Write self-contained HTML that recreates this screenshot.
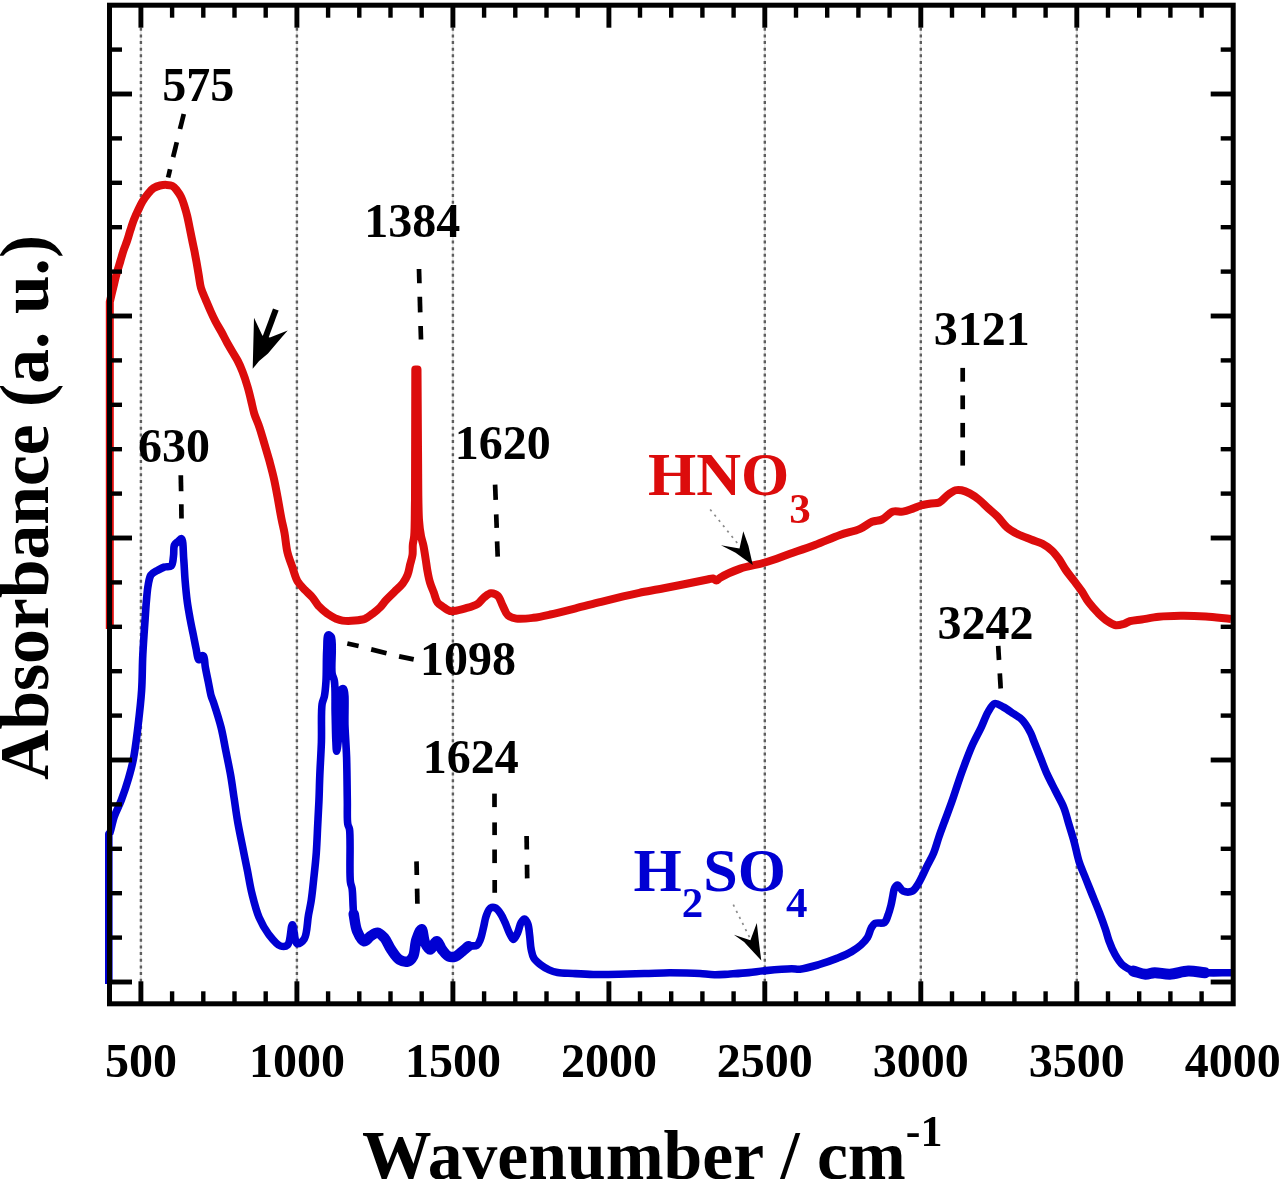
<!DOCTYPE html><html><head><meta charset="utf-8"><style>html,body{margin:0;padding:0;background:#fff;width:1280px;height:1179px;overflow:hidden}svg{display:block}text{font-family:"Liberation Serif","Times New Roman",serif;font-weight:bold}</style></head><body>
<svg width="1280" height="1179" viewBox="0 0 1280 1179">
<rect width="1280" height="1179" fill="#fff"/>
<line x1="140.9" y1="8" x2="140.9" y2="1001" stroke="#e2e2e2" stroke-width="1.6"/>
<line x1="140.9" y1="7.8" x2="140.9" y2="1001" stroke="#5e5e5e" stroke-width="2.4" stroke-dasharray="3 3.65"/>
<line x1="296.9" y1="8" x2="296.9" y2="1001" stroke="#e2e2e2" stroke-width="1.6"/>
<line x1="296.9" y1="7.8" x2="296.9" y2="1001" stroke="#5e5e5e" stroke-width="2.4" stroke-dasharray="3 3.65"/>
<line x1="452.9" y1="8" x2="452.9" y2="1001" stroke="#e2e2e2" stroke-width="1.6"/>
<line x1="452.9" y1="7.8" x2="452.9" y2="1001" stroke="#5e5e5e" stroke-width="2.4" stroke-dasharray="3 3.65"/>
<line x1="764.8" y1="8" x2="764.8" y2="1001" stroke="#e2e2e2" stroke-width="1.6"/>
<line x1="764.8" y1="7.8" x2="764.8" y2="1001" stroke="#5e5e5e" stroke-width="2.4" stroke-dasharray="3 3.65"/>
<line x1="920.8" y1="8" x2="920.8" y2="1001" stroke="#e2e2e2" stroke-width="1.6"/>
<line x1="920.8" y1="7.8" x2="920.8" y2="1001" stroke="#5e5e5e" stroke-width="2.4" stroke-dasharray="3 3.65"/>
<line x1="1076.8" y1="8" x2="1076.8" y2="1001" stroke="#e2e2e2" stroke-width="1.6"/>
<line x1="1076.8" y1="7.8" x2="1076.8" y2="1001" stroke="#5e5e5e" stroke-width="2.4" stroke-dasharray="3 3.65"/>
<path d="M109.8,629.0 C109.8,520.0 109.8,411.0 109.8,302.0 C111.1,296.4 112.5,290.5 113.8,285.3 C114.9,280.6 115.9,276.2 117.1,272.0 C118.2,268.1 119.3,264.7 120.4,261.0 C121.5,257.3 122.5,253.4 123.7,250.0 C124.8,246.9 125.9,244.3 127.0,241.2 C128.2,237.7 129.2,233.8 130.4,230.1 C131.6,226.4 132.8,222.5 134.2,219.1 C135.4,216.0 136.7,213.2 138.1,210.3 C139.5,207.4 140.8,204.3 142.5,201.5 C144.1,198.8 146.1,196.0 148.0,193.7 C149.7,191.6 151.4,189.6 153.5,188.2 C155.5,186.9 157.9,186.0 160.1,185.5 C162.3,185.0 164.6,184.8 166.7,184.9 C168.7,185.0 170.8,185.1 172.5,186.0 C174.3,186.9 175.6,188.9 177.0,190.6 C178.5,192.5 179.9,194.6 181.1,197.0 C182.4,199.7 183.4,202.8 184.4,205.9 C185.4,209.1 186.4,212.5 187.2,216.0 C188.1,219.7 188.8,223.6 189.6,227.5 C190.4,231.4 191.2,235.4 192.0,239.4 C192.8,243.4 193.7,247.4 194.5,251.3 C195.2,255.0 195.8,258.3 196.5,262.0 C197.2,266.1 198.0,270.7 198.7,275.0 C199.5,279.3 199.8,283.8 201.0,288.0 C202.2,292.1 204.2,296.1 205.8,300.0 C207.4,303.8 208.9,307.4 210.5,311.0 C212.1,314.6 213.7,318.0 215.5,321.5 C217.3,325.0 219.6,328.5 221.5,332.0 C223.4,335.5 225.1,339.1 227.0,342.5 C228.9,345.9 230.9,349.3 232.8,352.5 C234.5,355.5 236.2,358.0 237.8,361.0 C239.5,364.3 241.0,367.7 242.5,371.6 C244.3,376.1 246.1,381.6 247.5,386.5 C248.9,391.1 249.9,395.5 251.0,400.0 C252.1,404.5 252.9,409.2 254.3,413.7 C255.7,418.3 257.8,422.4 259.4,427.2 C261.2,432.5 262.8,438.5 264.5,444.2 C266.2,449.9 267.9,455.5 269.5,461.2 C271.0,466.8 272.5,472.3 273.8,478.1 C275.2,484.2 276.3,490.3 277.5,496.8 C278.8,503.9 280.2,512.5 281.5,519.0 C282.5,524.2 283.6,527.9 284.5,533.0 C285.6,538.9 286.0,546.5 287.5,552.5 C288.8,557.9 290.8,562.6 292.5,567.5 C294.1,572.2 295.2,577.4 297.5,581.3 C299.5,584.7 302.4,587.3 305.0,590.0 C307.5,592.6 310.2,594.8 312.5,597.5 C314.8,600.2 316.3,603.6 318.8,606.2 C321.3,609.0 324.5,611.6 327.5,613.8 C330.3,615.7 333.5,617.6 336.2,618.8 C338.5,619.7 340.0,620.2 342.5,620.6 C345.9,621.1 351.1,621.0 355.0,620.6 C358.5,620.3 362.0,620.0 365.0,618.8 C367.8,617.6 370.0,615.6 372.5,613.8 C375.1,611.8 377.7,609.8 380.0,607.5 C382.3,605.2 383.9,602.5 386.2,600.0 C388.9,597.1 392.2,594.1 395.0,591.2 C397.6,588.7 400.4,586.5 402.5,583.8 C404.5,581.1 406.3,578.1 407.5,575.0 C408.8,571.9 409.2,568.3 410.0,565.0 C410.8,561.7 412.0,558.4 412.5,555.0 C413.0,551.7 412.5,548.2 412.8,545.0 C413.1,541.9 413.8,540.0 414.2,536.0 C414.9,528.0 414.7,512.0 415.0,500.0 C415.1,456.5 415.2,413.0 415.3,369.5 C416.0,369.5 416.8,369.5 417.5,369.5 C417.7,396.3 417.8,423.2 418.0,450.0 C418.3,473.3 418.0,504.9 419.0,520.0 C419.5,527.2 420.1,531.3 421.0,536.0 C421.7,539.7 422.8,542.4 423.5,546.0 C424.3,550.0 424.9,554.5 425.6,558.8 C426.3,562.9 426.7,567.2 427.5,571.2 C428.2,575.1 428.9,578.9 430.0,582.5 C431.0,586.0 432.5,589.2 433.8,592.5 C435.0,595.8 435.7,600.0 437.5,602.5 C439.0,604.6 441.2,605.6 443.2,607.0 C445.3,608.5 448.0,610.5 450.0,611.0 C451.3,611.4 452.1,611.2 453.6,611.0 C456.4,610.7 461.5,609.5 465.4,608.4 C469.4,607.3 474.1,606.2 477.3,604.2 C480.1,602.4 481.7,599.3 484.1,597.4 C486.3,595.7 488.6,593.4 490.9,593.2 C493.1,593.0 495.8,594.0 497.7,595.7 C500.0,597.8 501.1,602.6 502.8,605.9 C504.5,609.1 505.5,613.1 507.9,615.2 C510.1,617.2 512.9,618.0 516.3,618.6 C520.9,619.4 527.7,618.5 533.3,617.8 C539.0,617.1 544.1,615.9 550.3,614.5 C557.9,612.8 567.2,610.4 575.7,608.3 C584.2,606.2 593.0,603.8 601.2,601.8 C608.8,599.9 616.4,598.0 623.2,596.4 C629.0,595.0 633.4,594.0 639.3,592.8 C646.6,591.3 654.5,590.1 663.8,588.3 C676.3,585.9 699.9,581.0 707.5,579.5 C710.2,579.0 711.4,578.2 713.0,578.5 C714.3,578.8 715.2,580.6 716.3,580.6 C717.5,580.6 718.2,578.9 720.0,577.8 C724.0,575.4 733.1,571.1 740.3,568.6 C748.0,565.9 756.8,564.9 765.0,562.5 C773.4,560.0 781.7,556.7 790.0,553.8 C798.3,550.9 806.7,548.1 815.0,545.0 C823.4,541.9 832.1,537.8 840.0,535.0 C847.0,532.5 854.3,531.4 860.0,528.9 C864.6,526.9 868.1,523.4 872.0,521.8 C875.4,520.4 878.7,521.0 882.0,519.5 C885.8,517.8 889.2,512.7 893.0,511.5 C896.2,510.5 899.5,512.1 902.7,511.6 C906.1,511.1 909.6,509.7 912.8,508.6 C915.7,507.6 918.0,506.3 920.9,505.5 C924.1,504.6 927.9,504.0 931.1,503.5 C933.9,503.0 936.7,503.6 939.2,502.5 C942.1,501.2 944.5,497.5 947.3,495.4 C949.9,493.4 952.9,491.1 955.5,490.3 C957.6,489.7 959.5,489.9 961.6,490.3 C964.2,490.8 967.0,492.0 969.7,493.4 C972.7,495.0 975.8,497.1 978.8,499.5 C982.1,502.1 985.3,505.6 988.5,508.5 C991.6,511.3 994.6,513.6 997.6,516.6 C1000.8,519.9 1003.6,524.5 1007.1,527.5 C1010.4,530.3 1014.1,532.3 1018.0,534.3 C1022.2,536.4 1027.3,538.0 1031.6,539.7 C1035.4,541.2 1039.0,542.0 1042.4,543.8 C1045.8,545.6 1049.1,548.0 1051.9,550.6 C1054.5,553.0 1056.5,555.7 1058.7,558.7 C1061.1,562.0 1063.0,566.0 1065.5,569.6 C1068.0,573.3 1071.0,576.8 1073.7,580.4 C1076.4,584.0 1079.3,587.6 1081.8,591.3 C1084.2,594.9 1086.0,598.7 1088.6,602.2 C1091.4,605.9 1094.8,609.7 1098.1,613.0 C1101.2,616.0 1104.4,619.1 1107.6,621.2 C1110.3,623.0 1112.9,624.8 1115.7,625.2 C1118.4,625.6 1121.4,624.6 1123.9,623.9 C1126.1,623.2 1127.6,621.9 1130.0,621.2 C1133.2,620.3 1137.4,620.1 1141.6,619.5 C1146.8,618.7 1152.7,617.4 1158.8,616.8 C1165.6,616.1 1173.1,615.9 1180.6,615.8 C1188.6,615.7 1197.2,616.0 1205.6,616.5 C1214.0,617.0 1222.5,618.2 1231.0,619.0" fill="none" stroke="#dc0c0c" stroke-width="8" stroke-linejoin="round" stroke-linecap="butt"/>
<path d="M108.8,984.0 C108.8,934.0 108.8,884.0 108.8,834.0 C109.1,833.7 109.4,833.6 109.8,833.0 C111.0,830.9 112.4,821.9 114.3,816.5 C116.2,810.9 119.2,805.8 121.4,799.9 C123.9,793.3 126.5,785.5 128.5,778.5 C130.4,772.0 131.9,766.8 133.3,759.5 C135.2,750.0 136.6,737.6 138.0,726.3 C139.4,714.6 140.8,702.5 141.6,690.6 C142.4,678.7 142.2,666.9 142.8,655.0 C143.4,643.1 144.4,629.5 145.1,619.4 C145.6,612.0 145.9,606.0 146.5,600.0 C147.0,594.7 147.3,589.5 148.2,585.0 C148.9,581.3 149.2,577.5 150.9,575.0 C152.4,572.9 155.0,571.8 157.3,570.5 C159.6,569.2 162.1,567.7 164.5,567.0 C166.7,566.3 169.7,567.4 171.2,566.0 C173.1,564.3 173.0,559.4 173.5,556.0 C174.1,552.4 173.3,547.5 174.5,545.0 C175.3,543.3 176.8,542.6 178.0,541.5 C179.1,540.5 180.6,538.3 181.5,538.7 C183.4,539.5 183.1,552.0 183.7,558.8 C184.3,565.9 184.5,573.3 185.1,580.5 C185.7,587.7 186.4,595.3 187.3,602.1 C188.1,608.2 189.2,613.9 190.2,619.4 C191.1,624.4 192.1,629.0 193.1,633.8 C194.1,638.6 195.0,643.7 196.0,648.2 C196.9,652.3 197.6,659.6 198.8,659.8 C199.6,660.0 200.5,656.5 201.5,656.0 C202.1,655.7 203.0,655.5 203.5,656.0 C204.8,657.1 204.6,663.1 205.3,667.0 C206.1,671.5 207.2,676.6 208.2,681.4 C209.2,686.2 210.0,691.7 211.1,695.8 C212.0,698.9 212.9,700.4 214.0,703.8 C215.9,709.6 219.1,719.5 221.1,727.5 C223.1,735.4 224.3,743.4 225.9,751.3 C227.5,759.2 229.2,767.1 230.6,775.0 C232.0,782.9 233.0,790.9 234.2,798.8 C235.4,806.7 236.4,814.6 237.8,822.5 C239.2,830.4 240.9,838.4 242.5,846.3 C244.1,854.2 245.7,862.1 247.3,870.0 C248.9,877.9 250.0,885.9 252.0,893.8 C254.0,901.8 256.1,910.4 259.1,917.5 C261.8,923.7 264.9,929.3 268.6,934.2 C272.1,938.7 276.7,944.8 280.5,946.0 C283.0,946.8 285.8,946.7 287.6,945.0 C290.7,942.1 290.8,924.7 292.4,924.7 C294.0,924.7 294.3,942.6 297.1,943.7 C299.0,944.4 302.5,941.7 304.3,938.9 C307.3,934.2 307.2,922.0 308.5,915.0 C309.5,909.4 310.5,905.5 311.3,900.0 C312.3,893.4 313.0,885.8 313.8,878.2 C314.7,870.0 315.7,861.2 316.3,852.7 C316.9,844.2 317.2,835.8 317.6,827.3 C318.0,818.8 318.5,810.4 318.9,801.8 C319.3,793.2 319.4,784.9 319.8,775.7 C320.2,765.2 321.0,753.7 321.4,742.1 C321.8,729.8 320.9,711.8 322.1,704.0 C322.7,700.4 323.8,699.3 324.4,696.3 C325.2,692.1 325.6,687.0 326.0,681.0 C326.5,672.6 326.2,659.0 326.7,650.5 C327.1,644.5 326.6,635.8 328.2,635.0 C329.0,634.6 330.5,635.6 331.3,637.0 C333.8,641.5 330.9,665.8 332.1,673.4 C332.7,677.0 333.9,677.6 334.4,681.1 C335.5,687.9 334.9,701.4 335.1,711.6 C335.4,721.8 335.5,734.9 335.9,742.1 C336.1,746.1 336.2,751.3 336.6,751.3 C337.1,751.3 338.3,741.5 338.9,734.5 C339.9,723.3 337.5,694.8 340.5,690.2 C341.3,688.9 342.7,688.2 343.5,688.7 C346.2,690.3 344.4,714.9 345.0,726.9 C345.5,737.6 346.2,746.4 346.6,757.4 C347.0,770.4 347.1,787.8 347.3,800.0 C347.5,809.2 346.9,819.1 347.8,824.1 C348.2,826.5 349.0,826.6 349.5,829.2 C350.9,837.5 349.2,872.6 350.4,881.8 C350.8,885.2 351.6,885.6 352.1,888.6 C353.0,894.3 352.7,906.4 353.7,914.0 C354.5,920.3 355.1,926.2 357.1,931.0 C358.8,935.0 361.4,940.8 363.9,941.2 C366.0,941.6 368.4,937.5 370.7,936.1 C372.9,934.7 375.3,932.5 377.5,932.7 C379.8,932.9 382.2,935.5 384.3,937.8 C386.9,940.7 388.5,945.9 391.1,949.6 C393.6,953.2 396.3,957.9 399.5,959.8 C402.1,961.3 405.7,962.2 408.0,961.5 C410.1,960.9 411.8,958.9 413.1,956.4 C415.1,952.6 414.8,944.3 416.5,939.5 C417.9,935.6 420.2,929.1 421.6,929.3 C423.1,929.5 423.3,939.2 425.0,942.8 C426.3,945.6 428.3,949.6 430.1,949.6 C432.2,949.6 434.9,941.1 436.9,941.2 C438.8,941.3 440.0,947.1 442.0,949.6 C444.0,952.1 446.2,955.4 448.7,956.4 C450.8,957.3 453.3,957.1 455.5,956.4 C457.9,955.6 460.1,953.0 462.3,951.3 C464.4,949.6 466.1,947.2 468.5,946.2 C471.0,945.2 475.0,946.6 477.0,945.3 C478.8,944.1 479.4,941.8 480.4,939.4 C481.8,936.0 482.7,930.7 483.7,926.6 C484.6,922.8 485.0,918.9 486.3,915.6 C487.4,912.7 488.6,909.1 490.5,908.0 C491.9,907.2 494.0,907.3 495.6,908.0 C497.5,908.9 499.2,911.6 500.7,913.9 C502.4,916.4 503.6,919.4 505.0,922.4 C506.5,925.6 507.7,929.6 509.2,932.6 C510.5,935.2 512.0,939.4 513.4,939.4 C514.8,939.4 516.5,935.2 517.7,932.6 C519.1,929.6 519.6,924.8 521.1,922.4 C522.1,920.8 523.4,918.9 524.5,919.0 C525.7,919.1 527.1,922.0 527.9,924.1 C529.0,927.0 529.1,931.2 529.6,935.1 C530.2,939.6 530.3,945.4 531.2,949.5 C531.9,952.7 532.3,955.5 533.8,958.0 C535.4,960.6 538.1,962.8 540.6,964.8 C543.2,966.8 546.2,968.6 549.1,969.9 C551.8,971.1 554.2,971.9 557.5,972.5 C561.8,973.3 567.4,973.2 572.9,973.5 C579.2,973.9 586.1,974.4 593.3,974.5 C601.3,974.7 610.2,974.5 618.7,974.3 C627.2,974.1 635.7,973.8 644.2,973.5 C652.7,973.3 662.0,972.9 669.6,972.8 C675.8,972.8 681.3,972.9 686.6,973.0 C691.3,973.1 695.5,973.2 700.0,973.5 C704.7,973.8 709.5,974.7 714.4,974.8 C719.5,974.9 724.6,974.3 730.0,974.0 C736.0,973.6 742.7,973.2 748.8,972.6 C754.6,972.0 759.6,971.2 765.9,970.6 C773.6,969.9 785.5,968.9 791.7,968.8 C795.2,968.8 796.7,969.5 800.0,969.2 C805.0,968.7 812.5,966.5 818.8,964.7 C825.0,962.8 831.7,960.4 837.5,958.1 C842.6,956.0 847.5,954.0 851.6,951.6 C855.1,949.6 858.2,947.4 860.9,945.0 C863.4,942.7 865.8,940.3 867.5,937.5 C869.2,934.7 869.8,930.6 871.2,928.1 C872.4,926.2 873.2,924.4 875.0,923.4 C877.3,922.2 882.2,924.0 884.4,922.5 C886.5,921.1 887.0,917.7 888.1,915.0 C889.2,912.1 890.1,908.7 890.9,905.6 C891.7,902.5 892.2,899.3 892.8,896.2 C893.4,893.4 893.6,889.8 894.7,887.8 C895.4,886.5 896.4,885.0 897.5,885.0 C899.1,885.0 900.7,890.0 903.1,891.0 C905.6,892.1 910.0,892.2 912.5,891.0 C915.0,889.8 916.2,887.0 918.1,884.0 C920.9,879.6 924.2,871.9 926.9,866.4 C929.3,861.6 931.8,857.6 933.7,852.9 C935.7,848.0 936.9,842.9 938.7,837.6 C940.7,831.7 943.2,825.1 945.5,818.9 C947.8,812.7 950.1,806.7 952.3,800.3 C954.6,793.7 956.8,786.5 959.1,779.9 C961.3,773.5 963.6,767.3 965.9,761.2 C968.1,755.4 970.2,749.9 972.7,744.3 C975.3,738.6 978.6,732.8 981.2,727.3 C983.7,722.1 985.5,716.3 988.0,712.1 C990.1,708.7 992.0,704.3 994.7,703.6 C997.2,702.9 1000.3,705.5 1003.2,707.0 C1006.5,708.7 1010.2,711.5 1013.4,713.7 C1016.4,715.7 1019.3,717.0 1021.9,719.7 C1025.1,722.9 1028.4,728.6 1030.4,732.4 C1031.9,735.2 1032.2,737.0 1033.4,740.0 C1035.2,744.5 1037.9,751.3 1040.2,757.0 C1042.5,762.6 1044.5,768.3 1047.0,773.9 C1049.6,779.6 1052.6,785.2 1055.4,790.8 C1058.2,796.5 1061.6,802.0 1063.9,807.8 C1066.1,813.3 1067.3,819.1 1069.0,824.7 C1070.7,830.4 1072.5,835.8 1074.1,841.7 C1075.9,848.1 1077.1,855.6 1079.2,862.0 C1081.1,868.0 1083.7,873.3 1085.9,879.0 C1088.2,884.7 1090.4,890.3 1092.7,896.0 C1095.0,901.6 1097.4,907.3 1099.5,912.9 C1101.6,918.4 1103.8,924.5 1105.5,929.5 C1106.9,933.6 1107.5,936.7 1108.9,940.6 C1110.5,945.0 1112.6,950.2 1115.0,954.4 C1117.2,958.3 1119.5,962.2 1122.6,965.0 C1125.6,967.7 1129.5,969.6 1133.3,971.1 C1137.1,972.6 1141.7,974.0 1145.5,974.2 C1148.8,974.3 1151.2,972.8 1154.7,972.7 C1159.1,972.6 1164.6,974.4 1169.9,974.2 C1175.7,974.0 1182.2,971.3 1188.2,971.1 C1193.9,970.9 1198.8,972.4 1205.0,972.7 C1212.7,973.1 1222.3,972.7 1231.0,972.7" fill="none" stroke="#0000d2" stroke-width="7.6" stroke-linejoin="round" stroke-linecap="butt"/>
<path d="M353.7,914.0 C354.8,919.7 355.1,926.2 357.1,931.0 C358.8,935.0 361.4,940.8 363.9,941.2 C366.0,941.6 368.4,937.5 370.7,936.1 C372.9,934.7 375.3,932.5 377.5,932.7 C379.8,932.9 382.2,935.5 384.3,937.8 C386.9,940.7 388.5,945.9 391.1,949.6 C393.6,953.2 396.3,957.9 399.5,959.8 C402.1,961.3 405.7,962.2 408.0,961.5 C410.1,960.9 411.8,958.9 413.1,956.4 C415.1,952.6 414.8,944.3 416.5,939.5 C417.9,935.6 420.2,929.1 421.6,929.3 C423.1,929.5 423.3,939.2 425.0,942.8 C426.3,945.6 428.3,949.6 430.1,949.6 C432.2,949.6 434.9,941.1 436.9,941.2 C438.8,941.3 440.0,947.1 442.0,949.6 C444.0,952.1 446.2,955.4 448.7,956.4 C450.8,957.3 453.3,957.1 455.5,956.4 C457.9,955.6 460.1,953.0 462.3,951.3 C464.4,949.6 466.4,947.9 468.5,946.2" fill="none" stroke="#0000d2" stroke-width="10.5" stroke-linejoin="round" stroke-linecap="round"/>
<path d="M1133.3,971.1 C1137.4,972.1 1141.7,974.0 1145.5,974.2 C1148.8,974.3 1151.2,972.8 1154.7,972.7 C1159.1,972.6 1164.6,974.4 1169.9,974.2 C1175.7,974.0 1182.2,971.3 1188.2,971.1 C1193.9,970.9 1199.4,972.2 1205.0,972.7" fill="none" stroke="#0000d2" stroke-width="11" stroke-linejoin="round" stroke-linecap="round"/>
<g stroke="#000" stroke-linecap="butt"><line x1="140.9" y1="1003.8" x2="140.9" y2="981.3" stroke-width="4.9"/><line x1="140.9" y1="5.2" x2="140.9" y2="27.7" stroke-width="4.9"/><line x1="172.1" y1="1003.8" x2="172.1" y2="991.3" stroke-width="4.4"/><line x1="172.1" y1="5.2" x2="172.1" y2="17.7" stroke-width="4.4"/><line x1="203.3" y1="1003.8" x2="203.3" y2="991.3" stroke-width="4.4"/><line x1="203.3" y1="5.2" x2="203.3" y2="17.7" stroke-width="4.4"/><line x1="234.5" y1="1003.8" x2="234.5" y2="991.3" stroke-width="4.4"/><line x1="234.5" y1="5.2" x2="234.5" y2="17.7" stroke-width="4.4"/><line x1="265.7" y1="1003.8" x2="265.7" y2="991.3" stroke-width="4.4"/><line x1="265.7" y1="5.2" x2="265.7" y2="17.7" stroke-width="4.4"/><line x1="296.9" y1="1003.8" x2="296.9" y2="981.3" stroke-width="4.9"/><line x1="296.9" y1="5.2" x2="296.9" y2="27.7" stroke-width="4.9"/><line x1="328.1" y1="1003.8" x2="328.1" y2="991.3" stroke-width="4.4"/><line x1="328.1" y1="5.2" x2="328.1" y2="17.7" stroke-width="4.4"/><line x1="359.3" y1="1003.8" x2="359.3" y2="991.3" stroke-width="4.4"/><line x1="359.3" y1="5.2" x2="359.3" y2="17.7" stroke-width="4.4"/><line x1="390.5" y1="1003.8" x2="390.5" y2="991.3" stroke-width="4.4"/><line x1="390.5" y1="5.2" x2="390.5" y2="17.7" stroke-width="4.4"/><line x1="421.7" y1="1003.8" x2="421.7" y2="991.3" stroke-width="4.4"/><line x1="421.7" y1="5.2" x2="421.7" y2="17.7" stroke-width="4.4"/><line x1="452.9" y1="1003.8" x2="452.9" y2="981.3" stroke-width="4.9"/><line x1="452.9" y1="5.2" x2="452.9" y2="27.7" stroke-width="4.9"/><line x1="484.1" y1="1003.8" x2="484.1" y2="991.3" stroke-width="4.4"/><line x1="484.1" y1="5.2" x2="484.1" y2="17.7" stroke-width="4.4"/><line x1="515.3" y1="1003.8" x2="515.3" y2="991.3" stroke-width="4.4"/><line x1="515.3" y1="5.2" x2="515.3" y2="17.7" stroke-width="4.4"/><line x1="546.5" y1="1003.8" x2="546.5" y2="991.3" stroke-width="4.4"/><line x1="546.5" y1="5.2" x2="546.5" y2="17.7" stroke-width="4.4"/><line x1="577.7" y1="1003.8" x2="577.7" y2="991.3" stroke-width="4.4"/><line x1="577.7" y1="5.2" x2="577.7" y2="17.7" stroke-width="4.4"/><line x1="608.9" y1="1003.8" x2="608.9" y2="981.3" stroke-width="4.9"/><line x1="608.9" y1="5.2" x2="608.9" y2="27.7" stroke-width="4.9"/><line x1="640.0" y1="1003.8" x2="640.0" y2="991.3" stroke-width="4.4"/><line x1="640.0" y1="5.2" x2="640.0" y2="17.7" stroke-width="4.4"/><line x1="671.2" y1="1003.8" x2="671.2" y2="991.3" stroke-width="4.4"/><line x1="671.2" y1="5.2" x2="671.2" y2="17.7" stroke-width="4.4"/><line x1="702.4" y1="1003.8" x2="702.4" y2="991.3" stroke-width="4.4"/><line x1="702.4" y1="5.2" x2="702.4" y2="17.7" stroke-width="4.4"/><line x1="733.6" y1="1003.8" x2="733.6" y2="991.3" stroke-width="4.4"/><line x1="733.6" y1="5.2" x2="733.6" y2="17.7" stroke-width="4.4"/><line x1="764.8" y1="1003.8" x2="764.8" y2="981.3" stroke-width="4.9"/><line x1="764.8" y1="5.2" x2="764.8" y2="27.7" stroke-width="4.9"/><line x1="796.0" y1="1003.8" x2="796.0" y2="991.3" stroke-width="4.4"/><line x1="796.0" y1="5.2" x2="796.0" y2="17.7" stroke-width="4.4"/><line x1="827.2" y1="1003.8" x2="827.2" y2="991.3" stroke-width="4.4"/><line x1="827.2" y1="5.2" x2="827.2" y2="17.7" stroke-width="4.4"/><line x1="858.4" y1="1003.8" x2="858.4" y2="991.3" stroke-width="4.4"/><line x1="858.4" y1="5.2" x2="858.4" y2="17.7" stroke-width="4.4"/><line x1="889.6" y1="1003.8" x2="889.6" y2="991.3" stroke-width="4.4"/><line x1="889.6" y1="5.2" x2="889.6" y2="17.7" stroke-width="4.4"/><line x1="920.8" y1="1003.8" x2="920.8" y2="981.3" stroke-width="4.9"/><line x1="920.8" y1="5.2" x2="920.8" y2="27.7" stroke-width="4.9"/><line x1="952.0" y1="1003.8" x2="952.0" y2="991.3" stroke-width="4.4"/><line x1="952.0" y1="5.2" x2="952.0" y2="17.7" stroke-width="4.4"/><line x1="983.2" y1="1003.8" x2="983.2" y2="991.3" stroke-width="4.4"/><line x1="983.2" y1="5.2" x2="983.2" y2="17.7" stroke-width="4.4"/><line x1="1014.4" y1="1003.8" x2="1014.4" y2="991.3" stroke-width="4.4"/><line x1="1014.4" y1="5.2" x2="1014.4" y2="17.7" stroke-width="4.4"/><line x1="1045.6" y1="1003.8" x2="1045.6" y2="991.3" stroke-width="4.4"/><line x1="1045.6" y1="5.2" x2="1045.6" y2="17.7" stroke-width="4.4"/><line x1="1076.8" y1="1003.8" x2="1076.8" y2="981.3" stroke-width="4.9"/><line x1="1076.8" y1="5.2" x2="1076.8" y2="27.7" stroke-width="4.9"/><line x1="1108.0" y1="1003.8" x2="1108.0" y2="991.3" stroke-width="4.4"/><line x1="1108.0" y1="5.2" x2="1108.0" y2="17.7" stroke-width="4.4"/><line x1="1139.2" y1="1003.8" x2="1139.2" y2="991.3" stroke-width="4.4"/><line x1="1139.2" y1="5.2" x2="1139.2" y2="17.7" stroke-width="4.4"/><line x1="1170.4" y1="1003.8" x2="1170.4" y2="991.3" stroke-width="4.4"/><line x1="1170.4" y1="5.2" x2="1170.4" y2="17.7" stroke-width="4.4"/><line x1="1201.6" y1="1003.8" x2="1201.6" y2="991.3" stroke-width="4.4"/><line x1="1201.6" y1="5.2" x2="1201.6" y2="17.7" stroke-width="4.4"/><line x1="109.5" y1="49.6" x2="122.0" y2="49.6" stroke-width="4.4"/><line x1="1233.2" y1="49.6" x2="1220.7" y2="49.6" stroke-width="4.4"/><line x1="109.5" y1="94.0" x2="132.0" y2="94.0" stroke-width="4.9"/><line x1="1233.2" y1="94.0" x2="1210.7" y2="94.0" stroke-width="4.9"/><line x1="109.5" y1="138.4" x2="122.0" y2="138.4" stroke-width="4.4"/><line x1="1233.2" y1="138.4" x2="1220.7" y2="138.4" stroke-width="4.4"/><line x1="109.5" y1="182.8" x2="122.0" y2="182.8" stroke-width="4.4"/><line x1="1233.2" y1="182.8" x2="1220.7" y2="182.8" stroke-width="4.4"/><line x1="109.5" y1="227.2" x2="122.0" y2="227.2" stroke-width="4.4"/><line x1="1233.2" y1="227.2" x2="1220.7" y2="227.2" stroke-width="4.4"/><line x1="109.5" y1="271.6" x2="122.0" y2="271.6" stroke-width="4.4"/><line x1="1233.2" y1="271.6" x2="1220.7" y2="271.6" stroke-width="4.4"/><line x1="109.5" y1="316.0" x2="132.0" y2="316.0" stroke-width="4.9"/><line x1="1233.2" y1="316.0" x2="1210.7" y2="316.0" stroke-width="4.9"/><line x1="109.5" y1="360.4" x2="122.0" y2="360.4" stroke-width="4.4"/><line x1="1233.2" y1="360.4" x2="1220.7" y2="360.4" stroke-width="4.4"/><line x1="109.5" y1="404.8" x2="122.0" y2="404.8" stroke-width="4.4"/><line x1="1233.2" y1="404.8" x2="1220.7" y2="404.8" stroke-width="4.4"/><line x1="109.5" y1="449.2" x2="122.0" y2="449.2" stroke-width="4.4"/><line x1="1233.2" y1="449.2" x2="1220.7" y2="449.2" stroke-width="4.4"/><line x1="109.5" y1="493.6" x2="122.0" y2="493.6" stroke-width="4.4"/><line x1="1233.2" y1="493.6" x2="1220.7" y2="493.6" stroke-width="4.4"/><line x1="109.5" y1="538.0" x2="132.0" y2="538.0" stroke-width="4.9"/><line x1="1233.2" y1="538.0" x2="1210.7" y2="538.0" stroke-width="4.9"/><line x1="109.5" y1="582.4" x2="122.0" y2="582.4" stroke-width="4.4"/><line x1="1233.2" y1="582.4" x2="1220.7" y2="582.4" stroke-width="4.4"/><line x1="109.5" y1="626.8" x2="122.0" y2="626.8" stroke-width="4.4"/><line x1="1233.2" y1="626.8" x2="1220.7" y2="626.8" stroke-width="4.4"/><line x1="109.5" y1="671.2" x2="122.0" y2="671.2" stroke-width="4.4"/><line x1="1233.2" y1="671.2" x2="1220.7" y2="671.2" stroke-width="4.4"/><line x1="109.5" y1="715.6" x2="122.0" y2="715.6" stroke-width="4.4"/><line x1="1233.2" y1="715.6" x2="1220.7" y2="715.6" stroke-width="4.4"/><line x1="109.5" y1="760.0" x2="132.0" y2="760.0" stroke-width="4.9"/><line x1="1233.2" y1="760.0" x2="1210.7" y2="760.0" stroke-width="4.9"/><line x1="109.5" y1="804.4" x2="122.0" y2="804.4" stroke-width="4.4"/><line x1="1233.2" y1="804.4" x2="1220.7" y2="804.4" stroke-width="4.4"/><line x1="109.5" y1="848.8" x2="122.0" y2="848.8" stroke-width="4.4"/><line x1="1233.2" y1="848.8" x2="1220.7" y2="848.8" stroke-width="4.4"/><line x1="109.5" y1="893.2" x2="122.0" y2="893.2" stroke-width="4.4"/><line x1="1233.2" y1="893.2" x2="1220.7" y2="893.2" stroke-width="4.4"/><line x1="109.5" y1="937.6" x2="122.0" y2="937.6" stroke-width="4.4"/><line x1="1233.2" y1="937.6" x2="1220.7" y2="937.6" stroke-width="4.4"/><line x1="109.5" y1="982.0" x2="132.0" y2="982.0" stroke-width="4.9"/><line x1="1233.2" y1="982.0" x2="1210.7" y2="982.0" stroke-width="4.9"/></g>
<rect x="109.5" y="5.2" width="1123.7" height="998.6" fill="none" stroke="#000" stroke-width="5"/>
<line x1="183.8" y1="114" x2="180.0" y2="129" stroke="#000" stroke-width="4.7"/>
<line x1="176.8" y1="142.2" x2="173.1" y2="157.1" stroke="#000" stroke-width="4.7"/>
<line x1="170.1" y1="169.2" x2="168.1" y2="177.5" stroke="#000" stroke-width="4.7"/>
<line x1="419.0" y1="269" x2="419.4" y2="283.2" stroke="#000" stroke-width="4.7"/>
<line x1="419.8" y1="296.8" x2="420.2" y2="312.4" stroke="#000" stroke-width="4.7"/>
<line x1="420.6" y1="326" x2="421.0" y2="339.5" stroke="#000" stroke-width="4.7"/>
<line x1="495.1" y1="484.6" x2="495.7" y2="499.9" stroke="#000" stroke-width="4.7"/>
<line x1="496.2" y1="514.3" x2="496.7" y2="527.9" stroke="#000" stroke-width="4.7"/>
<line x1="497.1" y1="541.4" x2="497.7" y2="556.7" stroke="#000" stroke-width="4.7"/>
<line x1="962.7" y1="367.9" x2="962.7" y2="381.7" stroke="#000" stroke-width="4.7"/>
<line x1="962.7" y1="395.4" x2="962.7" y2="409.2" stroke="#000" stroke-width="4.7"/>
<line x1="962.7" y1="422.9" x2="962.7" y2="437.4" stroke="#000" stroke-width="4.7"/>
<line x1="962.7" y1="450.4" x2="962.7" y2="465.6" stroke="#000" stroke-width="4.7"/>
<line x1="180.8" y1="475.2" x2="181.1" y2="491.2" stroke="#000" stroke-width="4.7"/>
<line x1="181.3" y1="504.3" x2="181.5" y2="518.5" stroke="#000" stroke-width="4.7"/>
<line x1="416.5" y1="861.4" x2="416.8" y2="875" stroke="#000" stroke-width="4.7"/>
<line x1="417.1" y1="888.6" x2="417.4" y2="903.8" stroke="#000" stroke-width="4.7"/>
<line x1="494.5" y1="793.6" x2="494.5" y2="807.1" stroke="#000" stroke-width="4.7"/>
<line x1="494.6" y1="822.4" x2="494.6" y2="835.1" stroke="#000" stroke-width="4.7"/>
<line x1="494.6" y1="849.5" x2="494.6" y2="863.1" stroke="#000" stroke-width="4.7"/>
<line x1="494.7" y1="880" x2="494.7" y2="892.8" stroke="#000" stroke-width="4.7"/>
<line x1="526.6" y1="836" x2="526.8" y2="849.5" stroke="#000" stroke-width="4.7"/>
<line x1="527.0" y1="864.8" x2="527.2" y2="878.4" stroke="#000" stroke-width="4.7"/>
<line x1="998.2" y1="645.9" x2="999.0" y2="660" stroke="#000" stroke-width="4.7"/>
<line x1="999.8" y1="673.3" x2="1000.7" y2="688.5" stroke="#000" stroke-width="4.7"/>
<line x1="347.3" y1="643.5" x2="358.6" y2="646" stroke="#000" stroke-width="4.7"/>
<line x1="371.2" y1="649.4" x2="386.5" y2="653.2" stroke="#000" stroke-width="4.7"/>
<line x1="399.1" y1="656.4" x2="413.7" y2="659.4" stroke="#000" stroke-width="4.7"/>
<polygon points="252.7,368.7 253.3,345 254,317.8 262.3,335.6 269.9,337.5 287.7,330.5 282,337 275.6,344.5 268,353.4 259.1,361" fill="#000"/>
<line x1="275.8" y1="309.5" x2="264.5" y2="340" stroke="#000" stroke-width="6"/>
<line x1="710.2" y1="509.5" x2="739.5" y2="545.8" stroke="#8a8a8a" stroke-width="1.7" stroke-dasharray="2.2 4.6"/>
<polygon points="752.8,564.9 744.6,559.2 735.6,552.8 721,545.2 739.5,548.4 743.3,531.2 748.4,545.8" fill="#000"/>
<line x1="733.3" y1="904.7" x2="750.4" y2="939" stroke="#8a8a8a" stroke-width="1.7" stroke-dasharray="2.2 4.6"/>
<polygon points="761.3,960.5 753.6,952.3 744.1,942.1 733.9,934.8 750.4,940.2 756.8,923 759.4,945.9" fill="#000"/>
<text x="198.2" y="101" font-size="48" fill="#000" text-anchor="middle">575</text>
<text x="412.2" y="237" font-size="48" fill="#000" text-anchor="middle">1384</text>
<text x="981.8" y="345" font-size="48" fill="#000" text-anchor="middle">3121</text>
<text x="174" y="462" font-size="48" fill="#000" text-anchor="middle">630</text>
<text x="502.8" y="458.7" font-size="48" fill="#000" text-anchor="middle">1620</text>
<text x="468" y="675" font-size="48" fill="#000" text-anchor="middle">1098</text>
<text x="470.7" y="772.5" font-size="48" fill="#000" text-anchor="middle">1624</text>
<text x="985.5" y="639" font-size="48" fill="#000" text-anchor="middle">3242</text>
<text x="140.9" y="1077.3" font-size="48" fill="#000" text-anchor="middle">500</text>
<text x="296.9" y="1077.3" font-size="48" fill="#000" text-anchor="middle">1000</text>
<text x="452.9" y="1077.3" font-size="48" fill="#000" text-anchor="middle">1500</text>
<text x="608.9" y="1077.3" font-size="48" fill="#000" text-anchor="middle">2000</text>
<text x="764.8" y="1077.3" font-size="48" fill="#000" text-anchor="middle">2500</text>
<text x="920.8" y="1077.3" font-size="48" fill="#000" text-anchor="middle">3000</text>
<text x="1076.8" y="1077.3" font-size="48" fill="#000" text-anchor="middle">3500</text>
<text x="1232.8" y="1077.3" font-size="48" fill="#000" text-anchor="middle">4000</text>
<text x="648" y="495" font-size="62" fill="#dc0c0c">HNO<tspan font-size="43" dy="28.3">3</tspan></text>
<text x="633.5" y="891.3" font-size="62" fill="#0000d2">H<tspan font-size="43" dy="25.7">2</tspan><tspan dy="-25.7">SO</tspan><tspan font-size="43" dy="25.7">4</tspan></text>
<text x="362" y="1179" font-size="69.6">Wavenumber / cm<tspan font-size="44" dy="-33.5">-1</tspan></text>
<text transform="translate(48,780) rotate(-90)" x="0" y="0" font-size="69.6">Absorbance (a. u.)</text>
</svg></body></html>
